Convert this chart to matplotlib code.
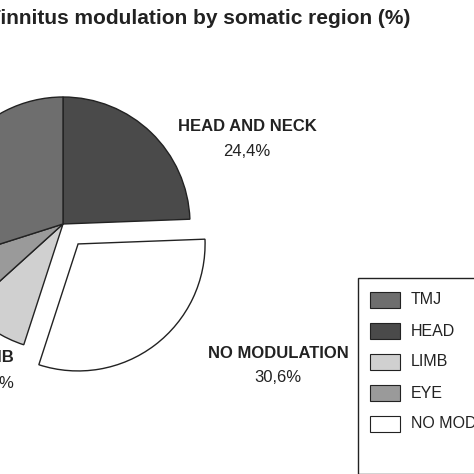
import matplotlib
matplotlib.use("Agg")
import matplotlib.pyplot as plt
from matplotlib.patches import Rectangle

plt.rcParams["font.family"] = ["Liberation Sans", "DejaVu Sans"]

labels = ["HEAD AND NECK", "NO MODULATION", "LIMB", "EYE", "TMJ"]
values = [24.4, 30.6, 8.3, 6.8, 29.9]
colors = ["#4a4a4a", "#ffffff", "#d0d0d0", "#9a9a9a", "#6e6e6e"]
explode = [0, 25, 0, 0, 0]
legend_labels = ["TMJ", "HEAD", "LIMB", "EYE", "NO MODULATION"]
legend_colors = ["#6e6e6e", "#4a4a4a", "#d0d0d0", "#9a9a9a", "#ffffff"]

fig = plt.figure(figsize=(4.74, 4.74), dpi=100)
ax = fig.add_axes([0, 0, 1, 1])
ax.pie(values, colors=colors, explode=explode, startangle=90, counterclock=False,
       center=(63, 250), radius=127, frame=True,
       wedgeprops=dict(edgecolor="#222222", linewidth=1))
ax.set_xlim(0, 474); ax.set_ylim(0, 474); ax.axis("off"); ax.set_aspect("equal")

H = lambda y: 474 - y
ax.text(-12, H(18), "Tinnitus modulation by somatic region (%)", fontsize=15,
        fontweight="bold", ha="left", va="center", color="#222222")
ax.text(247, H(126), "HEAD AND NECK", fontsize=12, fontweight="bold", ha="center", va="center", color="#222222")
ax.text(247, H(151), "24,4%", fontsize=12, ha="center", va="center", color="#222222")
ax.text(278, H(353), "NO MODULATION", fontsize=12, fontweight="bold", ha="center", va="center", color="#222222")
ax.text(278, H(378), "30,6%", fontsize=12, ha="center", va="center", color="#222222")
ax.text(15, H(358), "LIMB", fontsize=12, fontweight="bold", ha="right", va="center", color="#222222")
ax.text(14, H(383), "8,3%", fontsize=12, ha="right", va="center", color="#222222")

ax.add_patch(Rectangle((358, H(474)), 130, 196, facecolor="white", edgecolor="#222222", lw=1, clip_on=False))
for i, (lab, c) in enumerate(zip(legend_labels, legend_colors)):
    y = 300 + i * 31
    ax.add_patch(Rectangle((370, H(y) - 8), 30, 16, facecolor=c, edgecolor="#222222", lw=0.8))
    ax.text(411, H(y), lab, fontsize=11.5, ha="left", va="center", color="#222222")

fig.savefig("out.png", dpi=100)
